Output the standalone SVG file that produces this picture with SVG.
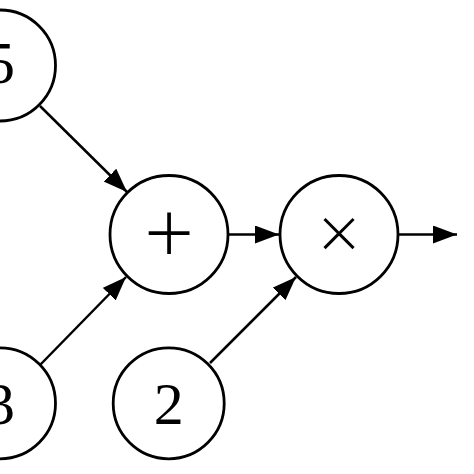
<svg xmlns="http://www.w3.org/2000/svg" width="474" height="474" viewBox="0 0 474 474">
<style>
.node circle{fill:#fff;stroke:#000;stroke-width:2.8}
.num{font-family:"Liberation Serif",serif;font-size:60px;text-anchor:middle;fill:#000}
.op{font-family:"Open Sans","Liberation Sans",sans-serif;font-weight:300;text-anchor:middle;fill:#000}
.edge{stroke:#000;stroke-width:2.5;fill:none;marker-end:url(#arr)}
</style>
<defs>
<marker id="arr" markerUnits="userSpaceOnUse" markerWidth="28" markerHeight="20" refX="24" refY="9" orient="auto">
<path d="M0,0 L24,9 L0,18 z" fill="#000"/>
</marker>
</defs>
<rect width="474" height="474" fill="#fff"/>
<g id="connectors">
<line class="edge" x1="40" y1="106" x2="127" y2="192"/>
<line class="edge" x1="40" y1="365" x2="126" y2="277"/>
<line class="edge" x1="210" y1="363" x2="296" y2="277"/>
<line class="edge" x1="228" y1="234.5" x2="279" y2="234.5"/>
<line class="edge" x1="398" y1="234.5" x2="457" y2="234.5"/>
</g>
<g id="n5" class="node"><circle cx="0" cy="65.5" r="55.5"/><text class="num" x="0" y="83">5</text></g>
<g id="n3" class="node"><circle cx="0" cy="403.3" r="55.5"/><text class="num" x="0" y="424">3</text></g>
<g id="n2" class="node"><circle cx="168.7" cy="403.3" r="55.5"/><text class="num" x="168.7" y="424">2</text></g>
<g id="plus" class="node"><circle cx="169" cy="234.5" r="59"/><text class="op" x="169" y="264" font-size="88">+</text></g>
<g id="times" class="node"><circle cx="339" cy="234.5" r="59"/><text class="op" x="339" y="259" font-size="72">×</text></g>
</svg>
